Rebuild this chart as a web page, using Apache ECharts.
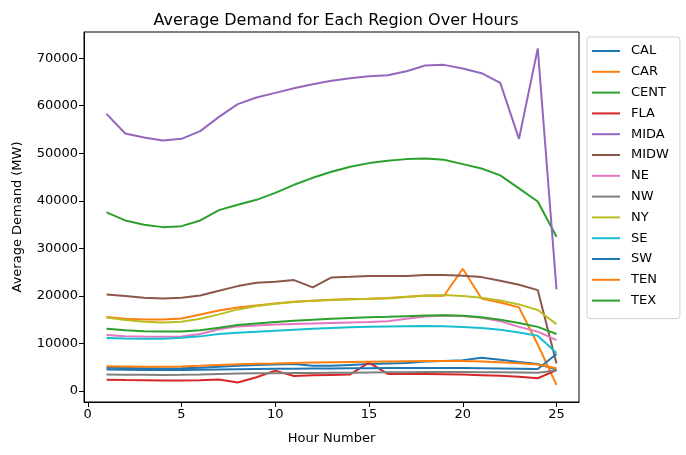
<!DOCTYPE html>
<html>
<head>
<meta charset="utf-8">
<script src="https://cdn.jsdelivr.net/npm/echarts@6/dist/echarts.min.js"></script>
<style>html,body{margin:0;padding:0;background:#fff}#c{width:686px;height:455px}</style>
</head>
<body>
<div id="c"></div>
<script>
var hours = [1,2,3,4,5,6,7,8,9,10,11,12,13,14,15,16,17,18,19,20,21,22,23,24,25];
var regions = ['CAL','CAR','CENT','FLA','MIDA','MIDW','NE','NW','NY','SE','SW','TEN','TEX'];
var xTicks = [0,5,10,15,20,25];
var yTicks = [0,10000,20000,30000,40000,50000,60000,70000];

var CAL  = [4900,4850,4800,4750,4800,4900,5100,5300,5500,5600,5700,5300,5300,5500,5700,5800,5900,6200,6300,6500,7000,6600,6100,5700,4500];
var CAR  = [15550,15200,15060,15060,15270,16120,16960,17590,18010,18430,18780,18990,19200,19340,19410,19550,19830,20110,20040,25710,19480,18640,17590,9800,1300];
var CENT = [37560,35880,34960,34470,34680,35880,38050,39160,40210,41680,43370,44840,46100,47150,47930,48420,48770,48910,48620,47720,46810,45340,42610,39870,32430];
var FLA  = [2400,2300,2250,2200,2200,2250,2450,1800,2900,4300,3150,3300,3400,3500,6000,3600,3600,3600,3550,3500,3350,3200,3000,2700,4400];
var MIDA = [58290,54170,53330,52700,53040,54650,57660,60330,61730,62700,63690,64530,65230,65790,66210,66420,67260,68450,68590,67830,66840,64810,53040,72030,21380];
var MIDW = [20320,19970,19620,19480,19620,20110,21080,22070,22760,22980,23330,21800,23900,24030,24170,24200,24220,24380,24380,24240,23960,23190,22350,21230,5800];
var NE   = [11770,11550,11450,11400,11450,12000,13000,13600,13800,14000,14100,14200,14300,14400,14500,14700,15200,15700,15900,15800,15400,14700,13500,12500,10700];
var NW   = [3500,3450,3420,3400,3420,3500,3600,3700,3720,3750,3780,3800,3830,3860,3900,3930,3960,4000,4000,4000,3980,3950,3900,3850,4300];
var NY   = [15480,14920,14570,14440,14570,15200,16120,17170,17870,18350,18710,18990,19130,19270,19410,19480,19760,20040,20180,19970,19620,19060,18220,17030,14080];
var SE   = [11140,11050,11000,11000,11210,11500,11980,12260,12450,12680,12900,13100,13250,13400,13520,13600,13650,13660,13620,13450,13240,12890,12330,11630,8000];
var SW   = [4550,4500,4450,4450,4450,4500,4550,4600,4650,4700,4700,4750,4750,4800,4800,4850,4850,4850,4850,4850,4800,4750,4700,4650,7800];
var TEN  = [5200,5150,5100,5100,5150,5300,5500,5650,5750,5800,5900,6000,6050,6100,6150,6200,6250,6300,6300,6300,6200,6050,5850,5600,4800];
var TEX  = [13100,12800,12600,12500,12500,12800,13300,13900,14200,14500,14800,15000,15200,15350,15500,15600,15750,15900,15950,15850,15500,15000,14300,13500,12000];

var values = [CAL,CAR,CENT,FLA,MIDA,MIDW,NE,NW,NY,SE,SW,TEN,TEX];
var colors = ['#1f77b4','#ff7f0e','#2ca02c','#d62728','#9467bd','#8c564b','#e377c2','#7f7f7f','#bcbd22','#17becf','#1f77b4','#ff7f0e','#2ca02c'];

var font = 'DejaVu Sans';
var series = regions.map(function (r, i) {
  return {
    name: r,
    type: 'line',
    symbol: 'none',
    showSymbol: false,
    animation: false,
    color: colors[i],
    lineStyle: { width: 2, color: colors[i] },
    data: hours.map(function (h, j) { return [h, values[i][j]]; })
  };
});

var chart = echarts.init(document.getElementById('c'), null, { renderer: 'canvas' });
chart.setOption({
  animation: false,
  backgroundColor: '#fff',
  title: {
    text: 'Average Demand for Each Region Over Hours',
    left: 331, top: 8, textAlign: 'center',
    textStyle: { fontFamily: font, fontSize: 16, fontWeight: 'normal', color: '#000' }
  },
  grid: { left: 84, right: 107, top: 32, bottom: 53, show: true, borderColor: '#000', borderWidth: 1, backgroundColor: 'transparent' },
  legend: {
    orient: 'vertical', left: 587, top: 37,
    data: regions,
    icon: 'rect',
    itemWidth: 28, itemHeight: 2, itemGap: 6.8,
    padding: [7, 11, 11, 5],
    borderColor: '#d0d0d0', borderWidth: 1, borderRadius: 3,
    textStyle: { fontFamily: font, fontSize: 13, lineHeight: 14, height: 14, color: '#000', padding: [0, 0, 0, 6] }
  },
  xAxis: {
    type: 'value', min: -0.2, max: 26.2,
    name: 'Hour Number', nameLocation: 'middle', nameGap: 30,
    nameTextStyle: { fontFamily: font, fontSize: 13, color: '#000' },
    axisLine: { show: true, onZero: false, lineStyle: { color: '#000', width: 1 } },
    axisTick: { show: true, length: 5, customValues: xTicks, lineStyle: { color: '#000' } },
    axisLabel: { customValues: xTicks, margin: 6, fontFamily: font, fontSize: 13, color: '#000',
      formatter: function (v) { return String(v); } },
    splitLine: { show: false }
  },
  yAxis: {
    type: 'value', min: -2300, max: 75500,
    name: 'Average Demand (MW)', nameLocation: 'middle', nameGap: 60,
    nameTextStyle: { fontFamily: font, fontSize: 13, color: '#000' },
    axisLine: { show: true, onZero: false, lineStyle: { color: '#000', width: 1 } },
    axisTick: { show: true, length: 5, customValues: yTicks, lineStyle: { color: '#000' } },
    axisLabel: { customValues: yTicks, margin: 6, fontFamily: font, fontSize: 13, color: '#000',
      formatter: function (v) { return String(v); } },
    splitLine: { show: false }
  },
  series: series
});
</script>
</body>
</html>
